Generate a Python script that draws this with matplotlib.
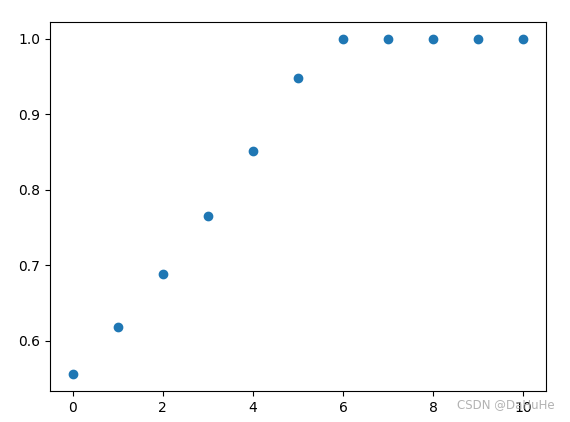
import matplotlib
matplotlib.use("Agg")
import matplotlib.pyplot as plt
import numpy as np

x = list(range(11))
y = [0.556, 0.618, 0.688, 0.766, 0.852, 0.948, 1.0, 1.0, 1.0, 1.0, 1.0]

fig = plt.figure(figsize=(5.7, 4.22), dpi=100)
ax = fig.add_axes([50/570, 1-391/422, (546-50)/570, (391-22)/422])
ax.scatter(x, y)
ax.set_xticks([0, 2, 4, 6, 8, 10])

# watermark
fig.text(0.973, 0.025, "CSDN @DaHuHe", color="#aaaaaa", fontsize=8.5,
         ha="right", va="bottom", alpha=0.9)

fig.savefig("out.png", dpi=100)
